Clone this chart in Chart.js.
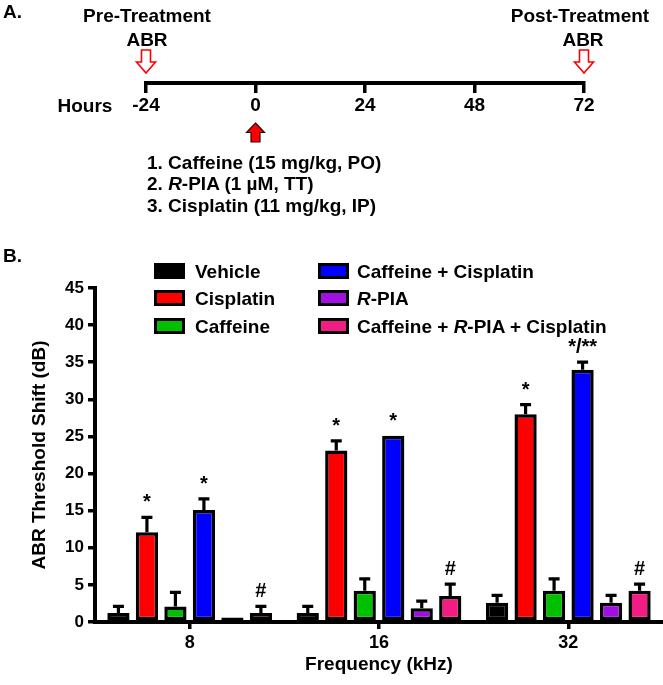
<!DOCTYPE html>
<html><head><meta charset="utf-8">
<script src="https://cdn.jsdelivr.net/npm/chart.js@4"></script>
<style>
html,body{margin:0;padding:0;background:#fff;}
#wrap{position:relative;width:663px;height:685px;overflow:hidden;font-family:"Liberation Sans",Arial,sans-serif;font-weight:bold;color:#000;background:#fff;}
canvas{position:absolute;left:0;top:0;}
.t{position:absolute;white-space:nowrap;line-height:1;font-size:19px;}
.c{transform:translate(-50%,-50%);}
.l{transform:translateY(-50%);}
.box{position:absolute;width:31px;height:16px;box-sizing:border-box;border:3px solid #000;transform:translateY(-50%);}
</style></head><body>
<div id="wrap">
<canvas id="bars" width="663" height="685"></canvas>
<canvas id="timeline" width="663" height="150"></canvas>
<div class="t l" style="left:3px;top:11px;">A.</div>
<div class="t c" style="left:147px;top:15px;">Pre-Treatment</div>
<div class="t c" style="left:147px;top:39px;">ABR</div>
<div class="t c" style="left:580px;top:15px;">Post-Treatment</div>
<div class="t c" style="left:583px;top:39px;">ABR</div>
<div class="t c" style="left:85px;top:105px;">Hours</div>
<div class="t l" style="left:147px;top:162px;">1. Caffeine (15 mg/kg, PO)</div>
<div class="t l" style="left:147px;top:183px;">2. <i>R</i>-PIA (1 µM, TT)</div>
<div class="t l" style="left:147px;top:205px;">3. Cisplatin (11 mg/kg, IP)</div>
<div class="t l" style="left:3px;top:255px;">B.</div>
<div id="legend"></div>
</div>
<script>
// ---------- data ----------
const categories = ['8', '16', '32'];
const seriesNames = ['Vehicle', 'Cisplatin', 'Caffeine', 'Caffeine + Cisplatin', 'R-PIA', 'Caffeine + R-PIA + Cisplatin'];
const seriesColors = ['#000000', '#FF0000', '#00C000', '#0000FF', '#A010E0', '#F21D84'];
const vehicle       = [1.2, 1.2, 2.6];
const vehicleErr    = [0.9, 0.9, 1.0];
const cisplatin     = [12.1, 23.1, 28.0];
const cisplatinErr  = [2.0, 1.3, 1.3];
const caffeine      = [2.1, 4.2, 4.2];
const caffeineErr   = [1.9, 1.6, 1.6];
const cafCis        = [15.1, 25.1, 34.0];
const cafCisErr     = [1.5, 0, 1.0];
const rpia          = [0.6, 1.85, 2.6];
const rpiaErr       = [0, 0.95, 1.0];
const combo         = [1.2, 3.5, 4.2];
const comboErr      = [0.9, 1.6, 0.9];
const vehicleMarks   = ['', '', ''];
const cisplatinMarks = ['*', '*', '*'];
const caffeineMarks  = ['', '', ''];
const cafCisMarks    = ['*', '*', '*/**'];
const rpiaMarks      = ['', '', ''];
const comboMarks     = ['#', '#', '#'];
const yTicksMax = 45, yTicksStep = 5;
const hourTicks = [-24, 0, 24, 48, 72];

const seriesValues = [vehicle, cisplatin, caffeine, cafCis, rpia, combo];
const seriesErrors = [vehicleErr, cisplatinErr, caffeineErr, cafCisErr, rpiaErr, comboErr];
const seriesMarks  = [vehicleMarks, cisplatinMarks, caffeineMarks, cafCisMarks, rpiaMarks, comboMarks];

const FONT = '"Liberation Sans", Arial, sans-serif';
Chart.defaults.font.family = FONT;
Chart.defaults.color = '#000';

// ---------- legend (HTML) ----------
const legend = document.getElementById('legend');
const colX = [154, 318], textX = [195, 357], rowY = [271, 298, 326];
seriesNames.forEach((name, i) => {
  const col = i < 3 ? 0 : 1, row = i % 3;
  const b = document.createElement('div');
  b.className = 'box';
  b.style.left = colX[col] + 'px'; b.style.top = rowY[row] + 'px';
  b.style.background = seriesColors[i];
  legend.appendChild(b);
  const t = document.createElement('div');
  t.className = 't l';
  t.style.left = textX[col] + 'px'; t.style.top = rowY[row] + 'px';
  t.innerHTML = name.replace('R-PIA', '<i>R</i>-PIA');
  legend.appendChild(t);
});

// ---------- bar chart ----------
const errMarks = {
  id: 'errMarks',
  afterDatasetsDraw(chart) {
    const ctx = chart.ctx, ys = chart.scales.y;
    chart.data.datasets.forEach((ds, di) => {
      const meta = chart.getDatasetMeta(di);
      meta.data.forEach((bar, i) => {
        const v = ds.data[i], e = ds.errors[i];
        const yTop = ys.getPixelForValue(v + e);
        ctx.save();
        ctx.strokeStyle = '#000';
        ctx.lineWidth = 3.2;
        if (e > 0) {
          ctx.beginPath();
          ctx.moveTo(bar.x, bar.y);
          ctx.lineTo(bar.x, yTop);
          ctx.moveTo(bar.x - 5.5, yTop);
          ctx.lineTo(bar.x + 5.5, yTop);
          ctx.stroke();
        }
        const m = ds.marks[i];
        if (m) {
          ctx.fillStyle = '#000';
          ctx.font = 'bold 20px ' + FONT;
          ctx.textAlign = 'center';
          ctx.textBaseline = 'alphabetic';
          ctx.fillText(m, bar.x, yTop - 9);
        }
        ctx.restore();
      });
    });
  }
};

new Chart(document.getElementById('bars'), {
  type: 'bar',
  data: {
    labels: categories,
    datasets: seriesNames.map((n, i) => ({
      label: n,
      data: seriesValues[i],
      errors: seriesErrors[i],
      marks: seriesMarks[i],
      backgroundColor: seriesColors[i],
      borderColor: '#000',
      borderWidth: 3.5,
      borderSkipped: false,
      barPercentage: 0.78,
      categoryPercentage: 0.903
    }))
  },
  options: {
    responsive: false,
    animation: false,
    layout: { padding: { left: 0, right: 0, top: 288, bottom: 0 } },
    plugins: { legend: { display: false }, tooltip: { enabled: false } },
    scales: {
      x: {
        offset: true,
        grid: { offset: false, drawOnChartArea: false, drawTicks: true, tickLength: 7, tickWidth: 3.5, tickColor: '#000', lineWidth: 3.5, color: '#000' },
        border: { display: true, color: '#000', width: 4 },
        ticks: { font: { size: 18, weight: 'bold' }, color: '#000', padding: 3, maxRotation: 0 },
        title: { display: true, text: 'Frequency (kHz)', font: { size: 19, weight: 'bold' }, color: '#000', padding: { top: 0, bottom: 9 } },
        afterFit: s => { s.height = 63; }
      },
      y: {
        min: 0, max: yTicksMax,
        ticks: { stepSize: yTicksStep, font: { size: 17, weight: 'bold' }, color: '#000', padding: 4 },
        grid: { drawOnChartArea: false, drawTicks: true, tickLength: 7, tickWidth: 3.5, tickColor: '#000', lineWidth: 3.5, color: '#000' },
        border: { display: true, color: '#000', width: 4 },
        title: { display: true, text: 'ABR Threshold Shift (dB)', font: { size: 19, weight: 'bold' }, color: '#000', padding: { top: 28, bottom: 0 } },
        afterFit: s => { s.width = 95; }
      }
    }
  },
  plugins: [errMarks]
});

// ---------- timeline ----------
function hollowDown(ctx, x, y0, y1) {
  const hw = 9.5, sw = 4.5, hy = y0 + (y1 - y0) * 0.52;
  ctx.beginPath();
  ctx.moveTo(x - sw, y0); ctx.lineTo(x + sw, y0); ctx.lineTo(x + sw, hy);
  ctx.lineTo(x + hw, hy); ctx.lineTo(x, y1); ctx.lineTo(x - hw, hy);
  ctx.lineTo(x - sw, hy); ctx.closePath();
  ctx.fillStyle = '#fff'; ctx.fill();
  ctx.strokeStyle = '#FF0000'; ctx.lineWidth = 1.6; ctx.stroke();
}
function filledUp(ctx, x, y0, y1) {
  const hw = 9, sw = 4.5, hy = y0 + (y1 - y0) * 0.5;
  ctx.beginPath();
  ctx.moveTo(x, y0); ctx.lineTo(x + hw, hy); ctx.lineTo(x + sw, hy);
  ctx.lineTo(x + sw, y1); ctx.lineTo(x - sw, y1); ctx.lineTo(x - sw, hy);
  ctx.lineTo(x - hw, hy); ctx.closePath();
  ctx.fillStyle = '#FF0000'; ctx.fill();
  ctx.strokeStyle = '#300'; ctx.lineWidth = 1.2; ctx.stroke();
}
const arrows = {
  id: 'arrows',
  afterDraw(chart) {
    const ctx = chart.ctx, xs = chart.scales.x;
    ctx.save();
    hollowDown(ctx, xs.getPixelForValue(hourTicks[0]), 50, 73);
    hollowDown(ctx, xs.getPixelForValue(hourTicks[hourTicks.length - 1]), 50, 73);
    filledUp(ctx, xs.getPixelForValue(0), 123, 142);
    ctx.restore();
  }
};
new Chart(document.getElementById('timeline'), {
  type: 'scatter',
  data: { datasets: [] },
  options: {
    responsive: false,
    animation: false,
    layout: { padding: { left: 146, right: 79, top: 70, bottom: 25 } },
    plugins: { legend: { display: false }, tooltip: { enabled: false } },
    scales: {
      x: {
        type: 'linear', min: hourTicks[0], max: hourTicks[hourTicks.length - 1], position: 'bottom',
        afterBuildTicks: s => { s.ticks = hourTicks.map(v => ({ value: v })); },
        ticks: { font: { size: 19, weight: 'bold' }, color: '#000', padding: 1, maxRotation: 0, autoSkip: false },
        grid: { drawOnChartArea: false, drawTicks: true, tickLength: 10, tickWidth: 3.5, tickColor: '#000', lineWidth: 3.5, color: '#000' },
        border: { display: true, color: '#000', width: 4 },
        afterFit: s => { s.height = 42; }
      },
      y: { display: false, min: 0, max: 1 }
    }
  },
  plugins: [arrows]
});
</script>
</body></html>
